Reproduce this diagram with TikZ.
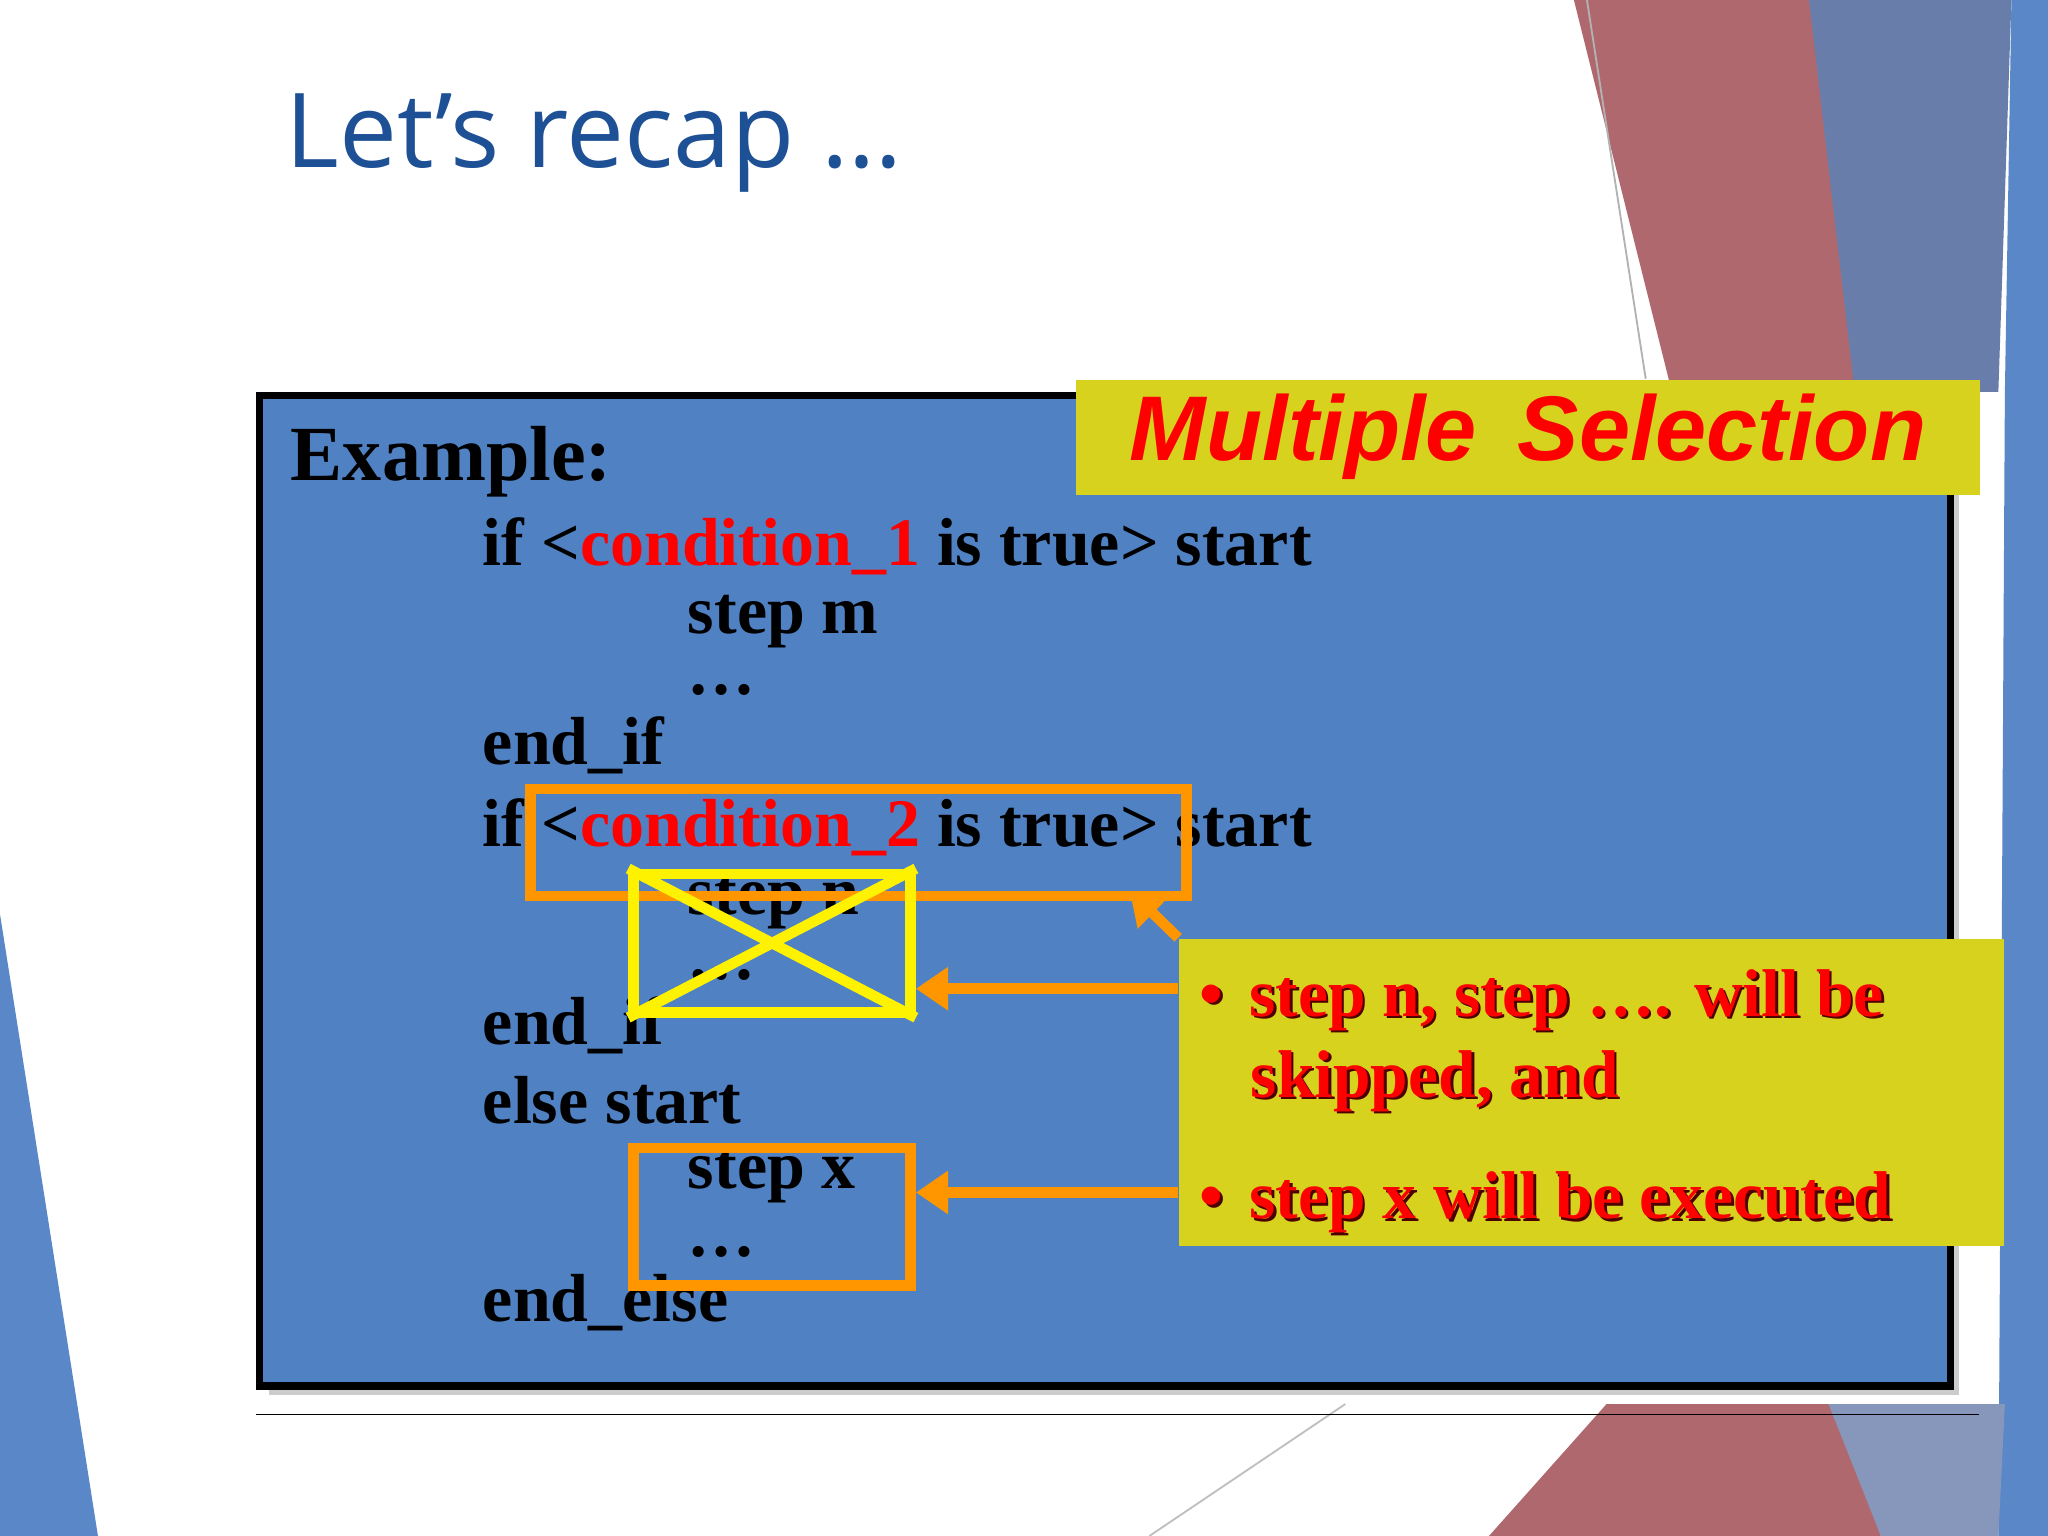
\documentclass[tikz,border=0pt]{standalone}
\usepackage{fontspec}
\setmainfont{Liberation Serif}
\newfontfamily\sansf{Open Sans}
\newfontfamily\comicf{Liberation Sans}
\usetikzlibrary{arrows.meta}
\definecolor{boxblue}{RGB}{80,130,195}
\definecolor{titleblue}{RGB}{30,80,150}
\definecolor{yel}{RGB}{215,210,30}
\definecolor{orng}{RGB}{255,150,0}
\definecolor{redish}{RGB}{175,105,110}
\definecolor{slate}{RGB}{105,125,170}
\definecolor{sideblue}{RGB}{90,135,200}
\tikzset{
 code/.style={anchor=base west,inner sep=0pt,font=\fontsize{14.8pt}{17pt}\selectfont\bfseries,text=black},
 callt/.style={anchor=base west,inner sep=0pt,font=\fontsize{14.7pt}{17pt}\selectfont\bfseries,text=red},
 calls/.style={anchor=base west,inner sep=0pt,font=\fontsize{14.7pt}{17pt}\selectfont\bfseries,text=black!70!red},
 obox/.style={draw=orng,line width=2.3pt},
 oarrow/.style={draw=orng,line width=2.3pt,-{Triangle[length=7pt,width=9pt]}}
}
\begin{document}
\begin{tikzpicture}[x=0.01cm,y=-0.01cm]
\useasboundingbox (0,0) rectangle (1568,1176);
\fill[white] (0,0) rectangle (1568,1176);
% decorations
\fill[redish] (1205,0) -- (1395,0) -- (1430,300) -- (1280,300) -- cycle;
\fill[slate] (1385,0) -- (1540,0) -- (1530,300) -- (1420,300) -- cycle;
\fill[sideblue] (1540,0) -- (1568,0) -- (1568,1176) -- (1530,1176) -- (1535,300) -- cycle;
\draw[gray!60] (1215,0) -- (1260,290);
\fill[redish] (1140,1176) -- (1230,1075) -- (1420,1075) -- (1440,1176) -- cycle;
\fill[slate!80] (1400,1075) -- (1535,1075) -- (1530,1176) -- (1440,1176) -- cycle;
\draw[gray!50] (880,1176) -- (1030,1075);
\fill[sideblue] (0,700) -- (75,1176) -- (0,1176) -- cycle;
% title
\node[anchor=base west,inner sep=0pt,text=titleblue,font=\sansf\fontsize{22.5pt}{26pt}\selectfont] (title) at (218,128) {Let’s recap …};
% main box
\fill[gray!40] (206,310) rectangle (1500,1068);
\node[draw=black,line width=1.6pt,fill=boxblue,minimum width=12.94cm,minimum height=7.58cm,anchor=north west,inner sep=0pt] (main) at (196,300) {};
\node[fill=yel,minimum width=6.92cm,minimum height=0.88cm,anchor=north west,inner sep=0pt,text=red,font=\comicf\fontsize{20pt}{24pt}\selectfont\bfseries\itshape] (ms) at (823,290) {Multiple\, Selection};
\draw[black] (196,1083) -- (1515,1083);
% code
\node[code,font=\fontsize{17pt}{20pt}\selectfont\bfseries] (ex) at (222,368) {Example:};
\node[code] (l1) at (369,433) {if <\textcolor{red}{condition\_1} is true> start};
\node[code] (l2) at (526,485) {step m};
\node[code] (l3) at (526,532) {…};
\node[code] (l4) at (369,585) {end\_if};
\node[code] (l5) at (369,648) {if <\textcolor{red}{condition\_2} is true> start};
\node[code] (l6) at (526,700) {step n};
\node[code] (l7) at (526,750) {…};
\node[code] (l8) at (369,800) {end\_if};
\node[code] (l9) at (369,860) {else start};
\node[code] (l10) at (526,910) {step x};
\node[code] (l11) at (526,962) {…};
\node[code] (l12) at (369,1012) {end\_else};
% highlight boxes
\node[obox,minimum width=5.02cm,minimum height=0.82cm,anchor=north west,inner sep=0pt] (cb) at (402,600) {};
\node[draw=yellow,line width=2.3pt,minimum width=2.12cm,minimum height=1.06cm,anchor=north west,inner sep=0pt] (xb) at (481,665) {};
\draw[yellow,line width=2.3pt] (xb.north west) -- (xb.south east) (xb.south west) -- (xb.north east);
\node[obox,minimum width=2.12cm,minimum height=1.05cm,anchor=north west,inner sep=0pt] (sb) at (481,875) {};
% callout
\node[fill=yel,minimum width=6.31cm,minimum height=2.35cm,anchor=north west,inner sep=0pt] (call) at (902,718) {};
\node[calls] at (920,780) {• \hspace{2pt}step n, step …. will be};
\node[calls] at (959,842) {skipped, and};
\node[calls] at (920,935) {• \hspace{2pt}step x will be executed};
\node[callt] (c1) at (918,778) {• \hspace{2pt}step n, step …. will be};
\node[callt] (c2) at (957,840) {skipped, and};
\node[callt] (c3) at (918,933) {• \hspace{2pt}step x will be executed};
\coordinate (a1) at (902,757);
\coordinate (a2) at (902,913);
\draw[oarrow] (call.north west) -- (865,682);
\draw[oarrow] (a1) -- (xb.east |- a1);
\draw[oarrow] (a2) -- (sb.east |- a2);
\end{tikzpicture}
\end{document}
